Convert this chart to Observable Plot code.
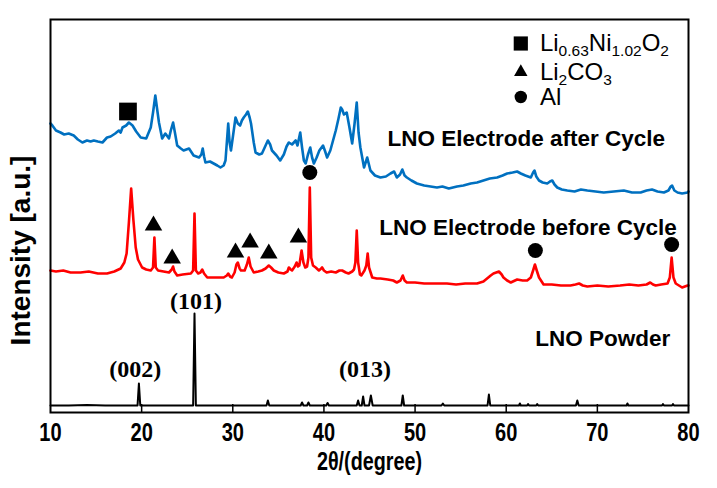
<!DOCTYPE html>
<html>
<head>
<meta charset="utf-8">
<script src="https://cdn.jsdelivr.net/npm/d3@7"></script>
<script src="https://cdn.jsdelivr.net/npm/@observablehq/plot@0.6"></script>
<style>
  body { margin: 0; background: #fff; }
  #chart svg { display: block; }
</style>
</head>
<body>
<div id="chart"></div>
<script>
// XRD patterns: [2θ (degree), intensity (a.u., stacked offsets)]
const powder = [
  [10,7],[12,7],[14,7.5],[16,7],[18,7],[19.55,7],[19.7,29],[19.85,7],[22,7],[24,7],
  [25.65,7],[25.8,99],[25.95,7],[28,7],[30,7],[33.7,7],[33.85,12],[34.0,7],[36,7],
  [37.45,7],[37.6,10],[37.75,7],[38.15,7],[38.3,10],[38.45,7],[40.25,7],[40.4,9.5],[40.55,7],
  [43.6,7],[43.75,12],[43.9,7],[44.15,7],[44.3,16],[44.45,7],[44.95,7],[45.15,17],[45.35,7],
  [47,7],[48.5,7],[48.65,17],[48.8,7],[50,7],[52.9,7],[53.05,9],[53.2,7],[55,7],
  [57.95,7],[58.1,18],[58.25,7],[60,7],[61.4,7],[61.5,9],[61.6,7],[62.3,7],[62.4,8.5],[62.5,7],
  [63.3,7],[63.4,8.5],[63.5,7],[65,7],[67.65,7],[67.8,12],[67.95,7],[70,7],[73.2,7],[73.3,9],[73.4,7],
  [75,7],[77.1,7],[77.2,8.5],[77.3,7],[78.2,7],[78.3,8.5],[78.4,7],[80,7]
];

const beforeCycle = [
  [10.0,142],[10.6,141],[11.4,142],[12.2,140],[13.3,140],[14.2,141],[15.2,139],[16.2,139],[17.0,141],
  [17.7,144],[18.1,150],[18.35,159],[18.6,190],[18.85,224],[19.1,192],[19.35,165],[19.6,153],[20.05,145],
  [20.5,143],[21.0,142],[21.25,145],[21.4,175],[21.55,145],[21.8,142],[22.4,141],[23.0,140],[23.3,143],
  [23.45,146],[23.6,141],[23.9,137],[24.5,138],[25.4,139],[25.65,142],[25.8,199],[25.95,142],[26.2,139],
  [26.45,140],[26.65,143],[26.85,139],[27.2,135],[28.0,135],[29.0,135],[29.35,137],[29.5,139],[29.7,136],
  [29.9,135],[30.2,140],[30.4,148],[30.55,150],[30.75,144],[30.9,142],[31.3,142],[31.55,148],[31.75,155],
  [31.95,146],[32.3,140],[32.8,141],[33.2,142],[33.6,144],[33.95,147],[34.2,145],[34.5,142],[35.0,140],
  [35.6,139],[36.0,141],[36.15,145],[36.35,143],[36.5,142],[36.8,146],[37.0,150],[37.15,146],[37.3,147],
  [37.55,162],[37.75,150],[37.95,145],[38.15,146],[38.3,155],[38.45,225],[38.6,155],[38.8,147],[39.1,145],
  [39.45,142],[39.7,144],[39.8,145],[40.0,142],[40.3,140],[40.8,141],[41.3,140],[41.7,142],[42.0,142],
  [42.4,140],[42.7,139],[43.1,141],[43.3,143],[43.45,150],[43.6,182],[43.75,150],[43.95,138],[44.1,137],
  [44.45,142],[44.65,147],[44.8,159],[44.95,145],[45.3,135],[45.8,134],[46.2,134],[47.0,133],[47.6,132],
  [48.0,130],[48.4,132],[48.65,137],[48.85,132],[49.1,130],[50.0,130],[51.0,129],[52.4,129],[53.5,129],
  [54.5,128],[55.5,129],[56.8,129],[57.5,131],[57.9,134],[58.3,137],[58.6,139],[59.2,141],[59.5,138],
  [59.7,135],[60.1,132],[60.5,130],[61.2,133],[61.8,132],[62.3,132],[62.7,135],[62.95,142],[63.15,148],
  [63.35,142],[63.6,135],[64.1,128],[65.0,128],[66.0,127],[67.05,127],[67.6,128],[68.0,129],[68.4,127],
  [68.9,126],[70.0,127],[71.2,126],[72.5,127],[73.5,128],[74.5,127],[75.4,128],[75.8,130],[76.1,128],
  [76.4,127],[77.0,128],[77.7,129],[77.95,135],[78.15,155],[78.35,135],[78.6,129],[79.3,125],[79.9,127],[80.0,127]
];

const afterCycle = [
  [10.0,289],[10.2,287],[10.6,282],[11.1,280],[11.5,278],[12.0,279],[12.55,277],[13.0,273],[13.5,270],
  [14.0,272],[14.4,271],[14.75,272],[15.2,271],[15.7,270],[16.2,275],[16.6,276],[17.1,279],[17.5,282],
  [17.7,280],[17.9,285],[18.3,287],[18.6,290],[19.0,287],[19.4,281],[19.9,275],[20.5,274],[21.0,285],
  [21.25,300],[21.5,317],[21.75,300],[21.9,290],[22.25,274],[22.6,279],[23.0,274],[23.2,282],[23.45,290],
  [23.65,280],[23.9,267],[24.3,264],[24.6,262],[25.2,264],[25.7,257],[26.3,255],[26.55,258],[26.7,264],
  [26.85,256],[27.0,250],[27.5,251],[27.9,249],[28.3,247],[28.65,245],[29.0,247],[29.2,252],[29.5,289],
  [29.65,270],[29.8,262],[30.0,275],[30.3,295],[30.55,289],[30.8,287],[31.0,292],[31.2,295],[31.45,298],
  [31.65,301],[31.85,295],[32.0,289],[32.3,270],[32.5,260],[32.9,258],[33.2,259],[33.5,265],[33.85,272],
  [34.1,268],[34.3,262],[34.8,257],[35.2,252],[35.6,258],[35.9,266],[36.15,270],[36.5,268],[36.9,272],
  [37.1,267],[37.4,280],[37.6,265],[37.8,252],[38.0,249],[38.25,258],[38.5,265],[38.7,255],[38.9,249],
  [39.2,255],[39.5,262],[39.9,267],[40.1,262],[40.35,255],[40.7,262],[41.0,272],[41.3,282],[41.6,294],
  [41.85,305],[42.0,303],[42.2,298],[42.5,300],[42.8,285],[43.1,269],[43.35,288],[43.6,310],[43.8,280],
  [44.0,265],[44.4,245],[44.75,255],[45.1,242],[45.6,237],[46.2,235],[46.8,236],[47.3,239],[47.7,241],
  [48.0,235],[48.35,238],[48.6,243],[48.85,237],[49.1,235],[49.6,232],[50.2,229],[51.0,227],[51.7,226],
  [52.4,225],[53.0,226],[53.7,224],[54.6,226],[55.3,227],[56.1,229],[56.8,230],[57.5,232],[58.2,234],
  [59.0,235],[59.6,237],[60.1,239],[60.7,240],[61.2,241],[61.6,239],[62.1,237],[62.7,235],[62.95,240],
  [63.1,242],[63.3,236],[63.6,232],[64.0,230],[64.5,229],[64.8,231],[65.05,232],[65.3,228],[65.6,225],
  [66.1,223],[66.7,222],[67.5,221],[68.2,223],[68.9,222],[69.8,221],[70.7,220],[71.8,221],[72.9,222],
  [73.8,220],[74.75,220],[75.4,222],[76.0,223],[76.6,221],[77.3,220],[77.8,222],[78.05,226],[78.2,227],
  [78.45,222],[78.8,220],[79.3,219],[79.9,220],[80.0,221]
];

// Phase markers placed above the reflections
const squareMarks = [[18.5,301]];
const triangleMarks = [[21.3,187],[23.35,154],[30.3,160],[31.9,170],[33.95,159],[37.2,175]];
const circleMarks = [[38.45,240],[63.2,162],[78.15,168]];

// Legend entries (phase, symbol); "_{...}" marks a subscript
const legendLabels = ["Li_{0.63}Ni_{1.02}O_{2}", "Li_{2}CO_{3}", "Al"];
const legendSymbols = ["square", "triangle", "circle"];

// Curve labels and Miller indices
const sampleLabels = ["LNO Electrode after Cycle", "LNO Electrode before Cycle", "LNO Powder"];
const millerLabels = ["(002)", "(101)", "(013)"];
const millerX = [19.3, 25.95, 44.5];

const xTicks = [10, 20, 30, 40, 50, 60, 70, 80];
const xTitle = "2θ/(degree)";
const yTitle = "Intensity [a.u.]";

const sans = "'Liberation Sans', Arial, sans-serif";
const serif = "'Liberation Serif', 'Times New Roman', serif";

const legendRows = legendLabels.map((label, i) => ({label, symbol: legendSymbols[i], y: [369, 340.5, 315.5][i], r: [8, 5, 6.2][i]}));
const sampleRows = sampleLabels.map((label, i) => ({label, x: [62.2, 62.4, 70.6][i], y: [274, 185, 74][i]}));
const millerRows = millerLabels.map((label, i) => ({label, x: millerX[i], y: [43, 111, 43][i]}));

const chart = Plot.plot({
  width: 717,
  height: 488,
  marginLeft: 50,
  marginRight: 29,
  marginTop: 19,
  marginBottom: 76,
  x: {domain: [10, 80], axis: null},
  y: {domain: [0, 393], axis: null},
  r: {type: "identity"},
  style: {fontFamily: sans, background: "#fff", color: "#000"},
  marks: [
    Plot.line(powder, {x: d => d[0], y: d => d[1], stroke: "#000", strokeWidth: 2}),
    Plot.line(beforeCycle, {x: d => d[0], y: d => d[1], stroke: "#ff0000", strokeWidth: 2.6, strokeLinejoin: "round"}),
    Plot.line(afterCycle, {x: d => d[0], y: d => d[1], stroke: "#0070c0", strokeWidth: 2.6, strokeLinejoin: "round"}),
    Plot.dot(squareMarks, {x: d => d[0], y: d => d[1], symbol: "square", r: 10, fill: "#000"}),
    Plot.dot(triangleMarks, {x: d => d[0], y: d => d[1], symbol: "triangle", r: 6.5, fill: "#000"}),
    Plot.dot(circleMarks, {x: d => d[0], y: d => d[1], symbol: "circle", r: 7.5, fill: "#000"}),
    // inward ticks on the bottom edge
    Plot.ruleX(xTicks.slice(1, -1), {y1: 0, y2: 8, stroke: "#000", strokeWidth: 1.5}),
    Plot.frame({stroke: "#000", strokeWidth: 2}),
    Plot.axisX(xTicks, {tickSize: 0, tickPadding: 11, fontSize: 25, fontWeight: "bold", label: null}),
    Plot.text([xTitle], {frameAnchor: "bottom", dy: 57, fontSize: 26, fontWeight: "bold"}),
    Plot.text([yTitle], {x: 10, y: 162, dx: -29, rotate: -90, fontSize: 28, fontWeight: "bold"}),
    // legend
    Plot.dot(legendRows, {x: 61.6, y: "y", symbol: "symbol", r: "r", fill: "#000"}),
    Plot.text(legendRows, {x: 63.7, y: "y", text: "label", textAnchor: "start", fontSize: 24}),
    // sample labels
    Plot.text(sampleRows, {x: "x", y: "y", text: "label", fontSize: 22.5, fontWeight: "bold"}),
    Plot.text(millerRows, {x: "x", y: "y", text: "label", fontSize: 24, fontWeight: "bold", fontFamily: serif})
  ]
});

// Render "_{...}" segments as subscripts
chart.querySelectorAll("text").forEach(el => {
  const s = el.textContent;
  if (!s.includes("_{")) return;
  el.textContent = "";
  let down = false;
  for (const m of s.matchAll(/_\{([^}]*)\}|[^_]+/g)) {
    const t = document.createElementNS("http://www.w3.org/2000/svg", "tspan");
    if (m[1] !== undefined) {
      t.textContent = m[1];
      t.setAttribute("font-size", 15.5);
      if (!down) { t.setAttribute("dy", 5); down = true; }
    } else {
      t.textContent = m[0];
      if (down) { t.setAttribute("dy", -5); down = false; }
    }
    el.appendChild(t);
  }
});

document.getElementById("chart").appendChild(chart);

// Condensed look for the x-axis numbers and title
const tickStrings = new Set(xTicks.map(String));
chart.querySelectorAll("text").forEach(el => {
  const s = el.textContent.trim();
  const k = tickStrings.has(s) ? 0.8 : s === xTitle ? 0.76 : null;
  if (k === null) return;
  const w = el.getComputedTextLength();
  el.setAttribute("textLength", (w * k).toFixed(1));
  el.setAttribute("lengthAdjust", "spacingAndGlyphs");
});
</script>
</body>
</html>
